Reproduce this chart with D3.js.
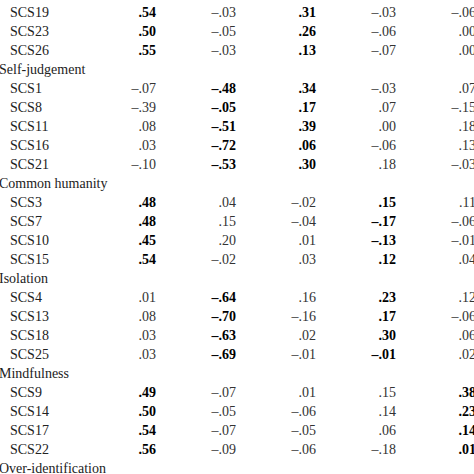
<!DOCTYPE html>
<html>
<head>
<meta charset="utf-8">
<script src="https://cdn.jsdelivr.net/npm/d3@7"></script>
<style>
  body { margin: 0; background: #fff; }
  svg { display: block; }
</style>
</head>
<body>
<div id="vis"></div>
<script>
const WIDTH = 474;
const HEIGHT = 474;
const FUENTE = "'Times New Roman', 'Liberation Serif', Tinos, 'DejaVu Serif', serif";

// rows: group headers (null values) and items
const rowLabels = ["SCS19", "SCS23", "SCS26", "Self-judgement", "SCS1", "SCS8", "SCS11", "SCS16", "SCS21",
  "Common humanity", "SCS3", "SCS7", "SCS10", "SCS15", "Isolation", "SCS4", "SCS13", "SCS18", "SCS25",
  " Mindfulness", "SCS9", "SCS14", "SCS17", "SCS22", "Over-identification"];
const isHeader = [0, 0, 0, 1, 0, 0, 0, 0, 0, 1, 0, 0, 0, 0, 1, 0, 0, 0, 0, 1, 0, 0, 0, 0, 1];

const col1 = [".54", ".50", ".55", null, "–.07", "–.39", ".08", ".03", "–.10", null, ".48", ".48", ".45", ".54", null, ".01", ".08", ".03", ".03", null, ".49", ".50", ".54", ".56", null];
const col2 = ["–.03", "–.05", "–.03", null, "–.48", "–.05", "–.51", "–.72", "–.53", null, ".04", ".15", ".20", "–.02", null, "–.64", "–.70", "–.63", "–.69", null, "–.07", "–.05", "–.07", "–.09", null];
const col3 = [".31", ".26", ".13", null, ".34", ".17", ".39", ".06", ".30", null, "–.02", "–.04", ".01", ".03", null, ".16", "–.16", ".02", "–.01", null, ".01", "–.06", "–.05", "–.06", null];
const col4 = ["–.03", "–.06", "–.07", null, "–.03", ".07", ".00", "–.06", ".18", null, ".15", "–.17", "–.13", ".12", null, ".23", ".17", ".30", "–.01", null, ".15", ".14", ".06", "–.18", null];
const col5 = ["–.06", ".00", ".00", null, ".07", "–.15", ".18", ".13", "–.03", null, ".11", "–.06", "–.01", ".04", null, ".12", "–.06", ".06", ".02", null, ".38", ".23", ".14", ".01", null];

// which loadings are printed in bold (per column)
const bold1 = [1, 1, 1, 0, 0, 0, 0, 0, 0, 0, 1, 1, 1, 1, 0, 0, 0, 0, 0, 0, 1, 1, 1, 1, 0];
const bold2 = [0, 0, 0, 0, 1, 1, 1, 1, 1, 0, 0, 0, 0, 0, 0, 1, 1, 1, 1, 0, 0, 0, 0, 0, 0];
const bold3 = [1, 1, 1, 0, 1, 1, 1, 1, 1, 0, 0, 0, 0, 0, 0, 0, 0, 0, 0, 0, 0, 0, 0, 0, 0];
const bold4 = [0, 0, 0, 0, 0, 0, 0, 0, 0, 0, 1, 1, 1, 1, 0, 1, 1, 1, 1, 0, 0, 0, 0, 0, 0];
const bold5 = [0, 0, 0, 0, 0, 0, 0, 0, 0, 0, 0, 0, 0, 0, 0, 0, 0, 0, 0, 0, 1, 1, 1, 1, 0];

const columns = [col1, col2, col3, col4, col5];
const bolds = [bold1, bold2, bold3, bold4, bold5];

const SVG = d3.select("#vis").append("svg").attr("width", WIDTH).attr("height", HEIGHT);

// Escalas
const escala_y = d3.scaleLinear().domain([0, rowLabels.length - 1]).range([12, 468]);
const escala_x = d3.scaleLinear().domain([0, columns.length - 1]).range([156, 476]);

const filas = rowLabels.map((l, i) => ({ label: l, header: isHeader[i], i: i }));

SVG.append("g").selectAll("text")
  .data(filas)
  .join("text")
  .attr("x", d => d.header ? -1 : 10)
  .attr("y", d => escala_y(d.i))
  .attr("dy", "0.35em")
  .attr("font-family", FUENTE)
  .attr("font-size", 14)
  .attr("fill", "#222")
  .text(d => d.label);

const celdas = [];
columns.forEach((col, c) => col.forEach((v, i) => {
  if (v !== null) celdas.push({ v: v, c: c, i: i, b: bolds[c][i] });
}));

SVG.append("g").selectAll("text")
  .data(celdas)
  .join("text")
  .attr("x", d => escala_x(d.c))
  .attr("y", d => escala_y(d.i))
  .attr("dy", "0.35em")
  .attr("text-anchor", "end")
  .attr("font-family", FUENTE)
  .attr("font-size", 14)
  .attr("font-weight", d => d.b ? "bold" : "normal")
  .attr("fill", d => d.b ? "#000" : "#333")
  .text(d => d.v);
</script>
</body>
</html>
